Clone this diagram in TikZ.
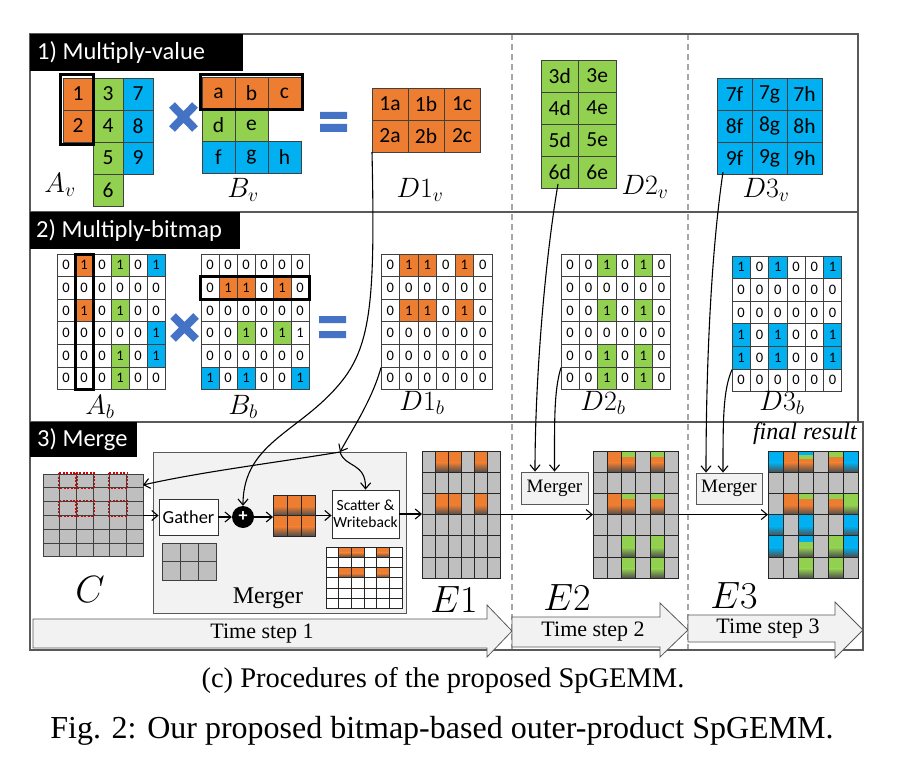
\RequirePackage{fix-cm}
\documentclass[tikz,border=0pt]{standalone}
\usepackage{fontspec}
\setmainfont{Liberation Serif}
\newfontfamily\calib{Carlito}
\usetikzlibrary{arrows.meta,positioning}

\definecolor{cOrange}{HTML}{ED7D31}
\definecolor{cGreen}{HTML}{92D050}
\definecolor{cBlue}{HTML}{00B0F0}
\definecolor{cSign}{HTML}{4472C4}
\definecolor{cellGray}{HTML}{BFBFBF}
\definecolor{cellDark}{HTML}{4D4D4D}
\definecolor{cellLine}{HTML}{404040}
\definecolor{boxFill}{HTML}{F2F2F2}
\definecolor{frameGray}{HTML}{595959}
\definecolor{sepGray}{HTML}{A6A6A6}
\colorlet{c0}{white}
\colorlet{cw}{white}
\colorlet{co}{cOrange}
\colorlet{cg}{cGreen}
\colorlet{cb}{cBlue}

\tikzset{
  panel/.style={draw=frameGray, line width=1.2pt},
  sep/.style={draw=sepGray, line width=1.2pt, dash pattern=on 6pt off 4pt},
  titletext/.style={text=white, font=\calib\fontsize{24.5}{28}\selectfont, anchor=west, inner sep=0pt},
  gridbox/.style={inner sep=0pt, outer sep=0pt, anchor=north west},
  vcell/.style={draw=cellLine, line width=0.8pt, inner sep=0pt, font=\calib\fontsize{21.5}{24}\selectfont},
  bcell/.style={draw=cellLine, line width=0.8pt, inner sep=0pt, font=\calib\fontsize{14.5}{16}\selectfont},
  thickbox/.style={draw=black, line width=3pt},
  sign/.style={draw=cSign, line width=8pt},
  mathlbl/.style={font=\fontsize{28}{32}\selectfont, inner sep=0pt},
  biglbl/.style={font=\fontsize{38}{44}\selectfont, inner sep=0pt},
  eline/.style={draw=black!85, line width=0.9pt},
  cline/.style={draw=cellLine, line width=0.9pt},
  redbox/.style={draw=red!85!black, line width=1.2pt, dash pattern=on 2pt off 1.5pt},
  opbox/.style={draw=black!80, fill=white, line width=0.8pt, inner sep=0pt, align=center},
  mbox/.style={draw=frameGray, fill=boxFill, line width=0.8pt, inner sep=0pt,
    minimum width=67pt, minimum height=32pt, font=\fontsize{19}{22}\selectfont},
  conn/.style={->, line width=1.1pt},
  tsarrow/.style={fill=boxFill, draw=frameGray, line width=0.8pt},
  tslabel/.style={font=\fontsize{22}{26}\selectfont, inner sep=0pt}
}

% value grid: name, x0, y0, cell w, cell h, cols, rows, cells (col/row/text/colour)
\newcommand{\valgrid}[8]{%
  \node[gridbox, minimum width={#6*#4pt}, minimum height={#7*#5pt}] (#1) at (#2,#3) {};
  \foreach \cx/\ry/\lbl/\col in {#8}
    \node[vcell, fill=\col, minimum width=#4pt, minimum height=#5pt]
      (#1-\cx\ry) at ({#2+(\cx-0.5)*#4},{#3+(\ry-0.5)*#5}) {\lbl};
}

% bitmap grid 6x6: name, x0, y0, cell w, cell h, rows (0 / o g b w)
\newcommand{\bitgrid}[6]{%
  \node[gridbox, minimum width={6*#4pt}, minimum height={6*#5pt}] (#1) at (#2,#3) {};
  \foreach \rowlist [count=\ry] in {#6}
    \foreach \bit [count=\cx] in \rowlist
      \node[bcell, fill=c\bit, minimum width=#4pt, minimum height=#5pt]
        (#1-\cx\ry) at ({#2+(\cx-0.5)*#4},{#3+(\ry-0.5)*#5}) {\if0\bit 0\else 1\fi};
}

% plain cell lines: x0, y0, w, h, cols, rows, style
\newcommand{\gridlines}[7]{%
  \foreach \cx in {1,...,#5}
    \foreach \ry in {1,...,#6}
      \draw[#7] ({#1+(\cx-1)*#3},{#2+(\ry-1)*#4}) rectangle ++(#3,#4);
}

% one merged cell: x, y, w, h, number of colours, colour list
\newcommand{\ecell}[6]{%
  \foreach \cc [count=\k] in #6 {%
    \fill[\cc] ({#1},{#2+(\k-1)*0.55*#4/#5}) rectangle ({#1+#3},{#2+\k*0.55*#4/#5});
    \xdef\lastc{\cc}%
  }%
  \shade[top color=\lastc, bottom color=cellDark] ({#1},{#2+0.55*#4}) rectangle ({#1+#3},{#2+#4});
}

% grid with merged cells: name, x0, y0, w, h, cols, rows, fill, cells (col/row/n/colours)
\newcommand{\egrid}[9]{%
  \node[gridbox, fill=#8, minimum width={#6*#4pt}, minimum height={#7*#5pt}] (#1) at (#2,#3) {};
  \foreach \cx/\ry/\n/\cl in {#9}
    \ecell{#2+(\cx-1)*#4}{#3+(\ry-1)*#5}{#4}{#5}{\n}{\cl};
  \gridlines{#2}{#3}{#4}{#5}{#6}{#7}{eline}
}

\begin{document}
\begin{tikzpicture}[x=1pt, y=-1pt, >={Straight Barb[length=6pt,width=10pt]}]
  \useasboundingbox (0,0) rectangle (904,770);

  % 1. Panels
  \draw[sep] (512,34) -- (512,650);
  \draw[sep] (688,34) -- (688,650);
  \draw[panel] (30,34) rectangle (858,212);
  \draw[panel] (30,212) rectangle (858,422);
  \draw[panel] (30,422) rectangle (863,650);
  \fill (30,34) rectangle (243,71);
  \fill (30,212) rectangle (240,249);
  \fill (30,422) rectangle (137,457);
  \node[titletext] (t1) at (37,53) {1) Multiply-value};
  \node[titletext] (t2) at (36,231) {2) Multiply-bitmap};
  \node[titletext] (t3) at (37,440) {3) Merge};

  % 2. Multiply-value
  \valgrid{Av}{63}{78}{30}{32}{3}{4}{1/1/1/co,1/2/2/co,2/1/3/cg,2/2/4/cg,2/3/5/cg,2/4/6/cg,3/1/7/cb,3/2/8/cb,3/3/9/cb}
  \draw[thickbox] (60,75) rectangle (93,145);
  \node[mathlbl] (Avl) at (60,185) {$A_v$};
  \draw[sign] (172,105) -- (195,129) (195,105) -- (172,129);
  \valgrid{Bv}{202}{77}{33}{32}{3}{3}{1/1/a/co,2/1/b/co,3/1/c/co,1/2/d/cg,2/2/e/cg,1/3/f/cb,2/3/g/cb,3/3/h/cb}
  \draw[thickbox] (200,75) rectangle (302,110);
  \node[mathlbl] (Bvl) at (243,190) {$B_v$};
  \fill[cSign] (320,112) rectangle (347,119) (320,124) rectangle (347,132);
  \valgrid{D1v}{372}{88}{36}{32}{3}{2}{1/1/1a/co,2/1/1b/co,3/1/1c/co,1/2/2a/co,2/2/2b/co,3/2/2c/co}
  \node[mathlbl] (D1vl) at (420,190) {$D1_v$};
  \valgrid{D2v}{541}{60}{37.5}{32}{2}{4}{1/1/3d/cg,2/1/3e/cg,1/2/4d/cg,2/2/4e/cg,1/3/5d/cg,2/3/5e/cg,1/4/6d/cg,2/4/6e/cg}
  \node[mathlbl] (D2vl) at (645,187) {$D2_v$};
  \valgrid{D3v}{717}{78}{35}{32}{3}{3}{1/1/7f/cb,2/1/7g/cb,3/1/7h/cb,1/2/8f/cb,2/2/8g/cb,3/2/8h/cb,1/3/9f/cb,2/3/9g/cb,3/3/9h/cb}
  \node[mathlbl] (D3vl) at (766,190) {$D3_v$};

  % 3. Multiply-bitmap
  \bitgrid{Ab}{57}{254}{18}{22.6}{{0,o,0,g,0,b},{0,0,0,0,0,0},{0,o,0,g,0,0},{0,0,0,0,0,b},{0,0,0,g,0,b},{0,0,0,g,0,0}}
  \draw[thickbox] (75,254) rectangle (93,389.6);
  \node[mathlbl] (Abl) at (100,407) {$A_b$};
  \draw[sign] (173,316) -- (196,339) (196,316) -- (173,339);
  \bitgrid{Bb}{201}{254}{18}{22.6}{{0,0,0,0,0,0},{0,o,o,0,o,0},{0,0,0,0,0,0},{0,0,g,0,g,w},{0,0,0,0,0,0},{b,0,b,0,0,b}}
  \draw[thickbox] (200,276.6) rectangle (309,299.2);
  \node[mathlbl] (Bbl) at (243,407) {$B_b$};
  \fill[cSign] (319,316) rectangle (346,323) (319,331) rectangle (346,338);
  \bitgrid{D1b}{381}{254}{18.5}{22.6}{{0,o,o,0,o,0},{0,0,0,0,0,0},{0,o,o,0,o,0},{0,0,0,0,0,0},{0,0,0,0,0,0},{0,0,0,0,0,0}}
  \node[mathlbl] (D1bl) at (422,403) {$D1_b$};
  \bitgrid{D2b}{561}{254}{18.3}{22.6}{{0,0,g,0,g,0},{0,0,0,0,0,0},{0,0,g,0,g,0},{0,0,0,0,0,0},{0,0,g,0,g,0},{0,0,g,0,g,0}}
  \node[mathlbl] (D2bl) at (603,403) {$D2_b$};
  \bitgrid{D3b}{732}{256}{18.3}{22.6}{{b,0,b,0,0,b},{0,0,0,0,0,0},{0,0,0,0,0,0},{b,0,b,0,0,b},{b,0,b,0,0,b},{0,0,0,0,0,0}}
  \node[mathlbl] (D3bl) at (782,403) {$D3_b$};

  % 4. Merge
  \node[gridbox, fill=cellGray, minimum width=100pt, minimum height=83pt] (Cg) at (43,474) {};
  \gridlines{43}{474}{16.7}{13.8}{6}{6}{cline}
  \foreach \cx in {2,3,5}
    \foreach \ry in {1,3}
      \draw[redbox] ({43+(\cx-1)*16.7-1},{474+(\ry-1)*13.8-1}) rectangle ++(18.7,15.8);
  \node[biglbl] (Cl) at (90,590) {$C$};

  \node[gridbox, draw=frameGray, fill=boxFill, line width=1pt, minimum width=253pt, minimum height=161pt] (merger) at (153,452) {};
  \node[font=\fontsize{24}{28}\selectfont, inner sep=0pt] (mergerl) at (268,598) {Merger};
  \node[opbox, minimum width=59pt, minimum height=36pt, font=\calib\fontsize{18.4}{20}\selectfont] (gather) at (188.5,517) {Gather};
  \node[gridbox, fill=cellGray, minimum width=55pt, minimum height=37pt] (gg) at (162,543) {};
  \gridlines{162}{543}{18.3}{18.5}{3}{2}{cline}
  \node[circle, fill=black, text=white, minimum size=22pt, inner sep=0pt, font=\calib\bfseries\fontsize{18}{18}\selectfont] (plus) at (243,517) {+};
  \egrid{pg}{273}{495}{14.3}{20.5}{3}{2}{white}{1/1/1/co,2/1/1/co,3/1/1/co,1/2/1/co,2/2/1/co,3/2/1/co}
  \node[opbox, minimum width=67pt, minimum height=48pt, font=\calib\fontsize{15.5}{17.5}\selectfont] (scatter) at (365.5,514) {Scatter \&\\Writeback};
  \egrid{sg}{326}{547}{12.7}{10.3}{6}{6}{white}{2/1/1/co,3/1/1/co,5/1/1/co,2/3/1/co,3/3/1/co,5/3/1/co}

  \egrid{E1}{422}{451}{13}{21.2}{6}{6}{cellGray}{2/1/1/co,3/1/1/co,5/1/1/co,2/3/1/co,3/3/1/co,5/3/1/co}
  \node[biglbl] (E1l) at (454,600) {$E1$};
  \egrid{E2}{593}{451}{14.3}{21.2}{6}{6}{cellGray}{2/1/1/co,3/1/2/{cg,co},5/1/2/{cg,co},2/3/1/co,3/3/2/{cg,co},5/3/2/{cg,co},3/5/1/cg,5/5/1/cg,3/6/1/cg,5/6/1/cg}
  \node[biglbl] (E2l) at (567,598) {$E2$};
  \egrid{E3}{768}{451}{15}{21.2}{6}{6}{cellGray}{1/1/1/cb,2/1/1/co,3/1/3/{cb,cg,co},5/1/2/{cg,co},6/1/1/cb,2/3/1/co,3/3/2/{cg,co},5/3/2/{cg,co},6/3/1/cg,1/4/1/cb,3/4/1/cb,6/4/1/cb,1/5/1/cb,3/5/2/{cb,cg},5/5/1/cg,6/5/1/cb,3/6/1/cg,5/6/1/cg}
  \node[biglbl] (E3l) at (734,596) {$E3$};
  \node[mbox] (M2) at (554.5,488) {Merger};
  \node[mbox, minimum width=66pt, minimum height=31pt] (M3) at (729,488.5) {Merger};
  \node[anchor=east, inner sep=0pt, font=\itshape\fontsize{24}{28}\selectfont] (fin) at (857,434) {final result};

  % 5. Connectors
  \coordinate (J1) at (340,452);
  \draw[conn] (D1v.south west) .. controls (375,290) and (372,340) .. (345,377)
    .. controls (304,432) and (243,440) .. (plus.north);
  \draw[conn] ([yshift=22pt]D1b.south west) .. controls (372,400) and (352,430) .. (J1);
  \draw[conn] (J1) .. controls (280,462) and (200,472) .. ([yshift=-11pt]Cg.north east);
  \draw[conn] (J1) .. controls (345,468) and (366,462) .. (scatter.north);
  \draw[conn] ([xshift=17pt,yshift=4pt]D2v.south west) .. controls (545,260) and (535,380) .. ([xshift=-19.5pt]M2.north);
  \draw[conn] ([yshift=22pt]D2b.south west) .. controls (554,390) and (554.5,420) .. (M2.north);
  \draw[conn] ([xshift=6pt,yshift=2pt]D3v.south west) .. controls (710,260) and (706,380) .. ([xshift=-23pt]M3.north);
  \draw[conn] ([yshift=22pt]D3b.south west) .. controls (723,390) and (723,420) .. ([xshift=-6pt]M3.north);
  \draw[conn] (Cg.east) -- (Cg.east -| gather.west);
  \draw[conn] (gather.east) -- (plus.west);
  \draw[conn] (plus.east) -- (plus.east -| pg.west);
  \draw[conn] (pg.east) -- (pg.east -| scatter.west);
  \draw[conn] (scatter.east) -- (scatter.east -| E1.west);
  \draw[conn] (E1.east) -- (E2.west);
  \draw[conn] (E2.east) -- (E3.west);

  % 6. Time steps
  \draw[tsarrow] (33,619) -- (487,619) -- (487,605) -- (512,631) -- (487,657) -- (487,648) -- (33,648) -- cycle;
  \node[tslabel] (ts1) at (262,634) {Time step 1};
  \draw[tsarrow] (512,617) -- (660,617) -- (660,603) -- (688,630) -- (660,657) -- (660,647) -- (512,647) -- cycle;
  \node[tslabel] (ts2) at (593,632) {Time step 2};
  \draw[tsarrow] (688,615) -- (835,615) -- (835,602) -- (863,630) -- (835,658) -- (835,642) -- (688,642) -- cycle;
  \node[tslabel] (ts3) at (768,629) {Time step 3};

  % 7. Captions
  \node[font=\fontsize{28.5}{32}\selectfont] (cap1) at (443,680) {(c) Procedures of the proposed SpGEMM.};
  \node[font=\fontsize{32}{36}\selectfont] (cap2) at (442,731) {Fig. 2: Our proposed bitmap-based outer-product SpGEMM.};
\end{tikzpicture}
\end{document}
